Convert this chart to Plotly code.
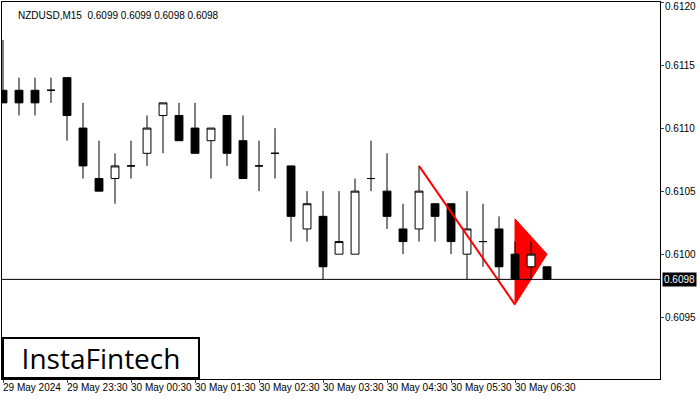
import plotly.graph_objects as go

# NZDUSD M15 candles
opens = [0.6113, 0.6113, 0.6113, 0.6113, 0.6114, 0.6110, 0.6106, 0.6106, 0.6107, 0.6108,
         0.6111, 0.6111, 0.6110, 0.6109, 0.6111, 0.6109, 0.6107, 0.6108, 0.6107, 0.6102,
         0.6103, 0.6100, 0.6100, 0.6106, 0.6105, 0.6102, 0.6102, 0.6104, 0.6104, 0.6100,
         0.6101, 0.6102, 0.6100, 0.6099, 0.6099]
highs = [0.6117, 0.6114, 0.6114, 0.6114, 0.6114, 0.6112, 0.6109, 0.6108, 0.6109, 0.6111,
         0.6112, 0.6112, 0.6112, 0.6110, 0.6111, 0.6111, 0.6109, 0.6110, 0.6107, 0.6105,
         0.6105, 0.6105, 0.6106, 0.6109, 0.6108, 0.6104, 0.6107, 0.6104, 0.6104, 0.6105,
         0.6104, 0.6103, 0.6101, 0.6101, 0.6099]
lows = [0.6112, 0.6111, 0.6111, 0.6112, 0.6109, 0.6106, 0.6105, 0.6104, 0.6106, 0.6107,
        0.6108, 0.6109, 0.6108, 0.6106, 0.6107, 0.6106, 0.6105, 0.6106, 0.6101, 0.6101,
        0.6098, 0.6100, 0.6100, 0.6105, 0.6102, 0.6100, 0.6101, 0.6101, 0.6100, 0.6098,
        0.6099, 0.6098, 0.6098, 0.6098, 0.6098]
closes = [0.6112, 0.6112, 0.6112, 0.6113, 0.6111, 0.6107, 0.6105, 0.6107, 0.6107, 0.6110,
          0.6112, 0.6109, 0.6108, 0.6110, 0.6108, 0.6106, 0.6107, 0.6108, 0.6103, 0.6104,
          0.6099, 0.6101, 0.6105, 0.6106, 0.6103, 0.6101, 0.6105, 0.6103, 0.6101, 0.6102,
          0.6101, 0.6099, 0.6098, 0.6100, 0.6098]

time_labels = ["29 May 2024", "29 May 23:30", "30 May 00:30", "30 May 01:30", "30 May 02:30",
               "30 May 03:30", "30 May 04:30", "30 May 05:30", "30 May 06:30"]
price_ticks = [0.6095, 0.6100, 0.6105, 0.6110, 0.6115, 0.6120]
last_price = 0.6098

# bearish pennant: pole and flag
pole_x = [26, 32]
pole_y = [0.6107, 0.6096]
flag_x = [32, 34, 32]
flag_y = [0.61028, 0.6100, 0.6096]

xs = list(range(len(opens)))

fig = go.Figure()
fig.add_trace(go.Candlestick(
    x=xs, open=opens, high=highs, low=lows, close=closes,
    increasing=dict(fillcolor="white", line=dict(color="black", width=1)),
    decreasing=dict(fillcolor="black", line=dict(color="black", width=1)),
    whiskerwidth=0, showlegend=False, hoverinfo="skip"))
fig.add_trace(go.Scatter(x=pole_x, y=pole_y, mode="lines",
                         line=dict(color="red", width=2),
                         showlegend=False, hoverinfo="skip"))

flag_path = "M " + " L ".join(f"{x},{y}" for x, y in zip(flag_x, flag_y)) + " Z"
fig.add_shape(type="path", path=flag_path, xref="x", yref="y", layer="below",
              fillcolor="red", line=dict(color="red", width=1))

fig.add_hline(y=last_price, line=dict(color="black", width=1))

font = dict(family="Liberation Sans, Arial", size=10, color="black")
for k, lab in enumerate(time_labels):
    fig.add_annotation(x=4 * k, y=0, xref="x", yref="paper", yanchor="top",
                       xanchor="left", xshift=-2, yshift=-1, text=lab,
                       showarrow=False, font=font)
for p in price_ticks:
    fig.add_annotation(x=1, y=p, xref="paper", yref="y", xanchor="left",
                       yanchor="top" if p == max(price_ticks) else "middle",
                       yshift=3 if p == max(price_ticks) else 0,
                       xshift=3, text=f"{p:.4f}", showarrow=False, font=font)

fig.add_annotation(x=1, y=last_price, xref="paper", yref="y", xanchor="left",
                   text="0.6098", showarrow=False, bgcolor="black",
                   font=dict(family="Liberation Sans, Arial", size=10, color="white"),
                   xshift=2, borderpad=1)
fig.add_annotation(x=0.022, y=0.985, xref="paper", yref="paper", xanchor="left",
                   yanchor="top", text="NZDUSD,M15  0.6099 0.6099 0.6098 0.6098",
                   showarrow=False, font=font)
fig.add_annotation(x=0.0, y=0.0, xref="paper", yref="paper", xanchor="left",
                   yanchor="bottom", text="InstaFintech", showarrow=False,
                   font=dict(family="Open Sans, Arial", size=28, color="black"),
                   bgcolor="white", bordercolor="black", borderwidth=2,
                   borderpad=0, width=194)

fig.update_layout(
    width=700, height=400,
    margin=dict(l=2, r=40, t=2, b=21, autoexpand=False),
    paper_bgcolor="white", plot_bgcolor="white",
    xaxis=dict(range=[-0.0625, 41.06], showgrid=False, zeroline=False,
               showticklabels=False, rangeslider=dict(visible=False),
               showline=True, linecolor="black", mirror=True, automargin=False,
               ticks="outside", tickvals=[4 * k for k in range(9)], ticklen=3),
    yaxis=dict(range=[0.60901, 0.6120], side="right", showgrid=False, zeroline=False,
               tickvals=price_ticks, showticklabels=False, ticks="outside", ticklen=3,
               showline=True, linecolor="black", mirror=True, automargin=False),
)

fig.write_html("out.html", config={"displayModeBar": False},
               post_script="document.body.style.margin='0';")
